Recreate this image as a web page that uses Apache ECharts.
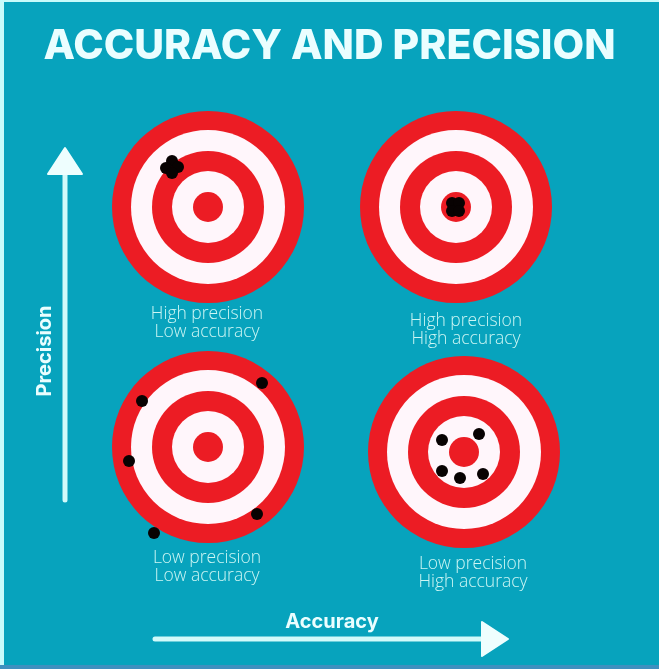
<!DOCTYPE html>
<html><head><meta charset="utf-8">
<script src="https://cdn.jsdelivr.net/npm/echarts@6/dist/echarts.min.js"></script>
<style>html,body{margin:0;padding:0;background:#07a3bd;overflow:hidden}#c{width:659px;height:669px;}</style>
</head><body><div id="c"></div>
<script>
// ---- data ----
const titleText = 'ACCURACY AND PRECISION';
const targetCenters = [[208, 207], [456, 207], [208, 447], [464, 452]];
const ringRadii = [96, 77, 56, 36, 15];
const ringColors = ['#ec1c24', '#fff6fb', '#ec1c24', '#fff6fb', '#ec1c24'];
const hitsHighPrecLowAcc = [[172, 161], [166, 168], [178, 167], [172, 173]];
const hitsHighPrecHighAcc = [[452, 203], [459, 203], [452, 211], [459, 211]];
const hitsLowPrecLowAcc = [[262, 383], [142, 401], [129, 461], [257, 514], [154, 533]];
const hitsLowPrecHighAcc = [[442, 440], [479, 434], [442, 471], [460, 478], [483, 474]];
const targetLabels = [
  'High precision\nLow accuracy',
  'High precision\nHigh accuracy',
  'Low precision\nLow accuracy',
  'Low precision\nHigh accuracy'
];
const labelAnchors = [[207, 323], [466, 330], [207, 567], [473, 573]];
const arrowNames = ['Precision', 'Accuracy'];
const arrowFrom = [[65, 500], [155, 639]];
const arrowTo = [[65, 148], [508, 639]];
const arrowNameAt = [[45, 351], [332, 622]];

// ---- build ----
const ringData = [];
targetCenters.forEach(c => ringRadii.forEach((r, i) => ringData.push([c[0], c[1], r, i])));
const hitData = [].concat(hitsHighPrecLowAcc, hitsHighPrecHighAcc, hitsLowPrecLowAcc, hitsLowPrecHighAcc);
const labelData = labelAnchors.map((p, i) => [p[0], p[1], i]);
const arrowData = arrowFrom.map((f, i) => [f[0], f[1], arrowTo[i][0], arrowTo[i][1], arrowNameAt[i][0], arrowNameAt[i][1], i]);

const chart = echarts.init(document.getElementById('c'));
chart.setOption({
  backgroundColor: '#07a3bd',
  animation: false,
  title: {
    text: titleText, left: 'center', top: 21,
    textStyle: { color: '#eafeff', fontFamily: 'Inter', fontWeight: 800, fontSize: 41 }
  },
  graphic: [
    { type: 'rect', left: 0, top: 0, shape: { width: 4, height: 669 }, style: { fill: '#c8fbfb' } },
    { type: 'rect', left: 0, top: 0, shape: { width: 659, height: 2 }, style: { fill: '#c8fbfb' } },
    { type: 'rect', left: 0, top: 665, shape: { width: 659, height: 4 }, style: { fill: '#3f90bf' } }
  ],
  grid: { left: 0, right: 0, top: 0, bottom: 0 },
  xAxis: { type: 'value', min: 0, max: 659, show: false },
  yAxis: { type: 'value', min: 0, max: 669, inverse: true, show: false },
  series: [
    {
      type: 'custom', data: ringData, silent: true,
      renderItem: (params, api) => {
        const c = api.coord([api.value(0), api.value(1)]);
        const s = api.size([api.value(2), api.value(2)]);
        return { type: 'circle', shape: { cx: c[0], cy: c[1], r: s[0] }, style: { fill: ringColors[api.value(3)] } };
      }
    },
    {
      type: 'scatter', data: hitData, symbol: 'circle', symbolSize: 12,
      itemStyle: { color: '#080202', opacity: 1 }, silent: true
    },
    {
      type: 'custom', data: labelData, silent: true,
      renderItem: (params, api) => {
        const c = api.coord([api.value(0), api.value(1)]);
        return {
          type: 'text', x: c[0], y: c[1],
          style: {
            text: targetLabels[api.value(2)], fill: '#cdf6f4', fontFamily: 'Open Sans', fontSize: 17.5,
            fontWeight: 300, align: 'center', verticalAlign: 'middle', lineHeight: 18
          }
        };
      }
    },
    {
      type: 'custom', data: arrowData, silent: true,
      renderItem: (params, api) => {
        const a = api.coord([api.value(0), api.value(1)]);
        const b = api.coord([api.value(2), api.value(3)]);
        const t = api.coord([api.value(4), api.value(5)]);
        const dx = b[0] - a[0], dy = b[1] - a[1];
        const len = Math.sqrt(dx * dx + dy * dy);
        const ux = dx / len, uy = dy / len;
        const hl = 26, hw = 17;
        const bx = b[0] - ux * hl, by = b[1] - uy * hl;
        const vertical = Math.abs(uy) > Math.abs(ux);
        return {
          type: 'group',
          children: [
            { type: 'line', shape: { x1: a[0], y1: a[1], x2: bx, y2: by }, style: { stroke: '#d2fafa', lineWidth: 5, lineCap: 'round' } },
            { type: 'polygon', shape: { points: [[b[0], b[1]], [bx - uy * hw, by + ux * hw], [bx + uy * hw, by - ux * hw]] }, style: { fill: '#eefefe', lineJoin: 'round', stroke: '#eefefe', lineWidth: 2 } },
            {
              type: 'text', x: t[0], y: t[1], rotation: vertical ? Math.PI / 2 : 0,
              style: {
                text: arrowNames[api.value(6)], fill: '#eafeff', fontFamily: 'Inter', fontWeight: 'bold',
                fontSize: 20, align: 'center', verticalAlign: 'middle'
              }
            }
          ]
        };
      }
    }
  ]
});
</script>
</body></html>
